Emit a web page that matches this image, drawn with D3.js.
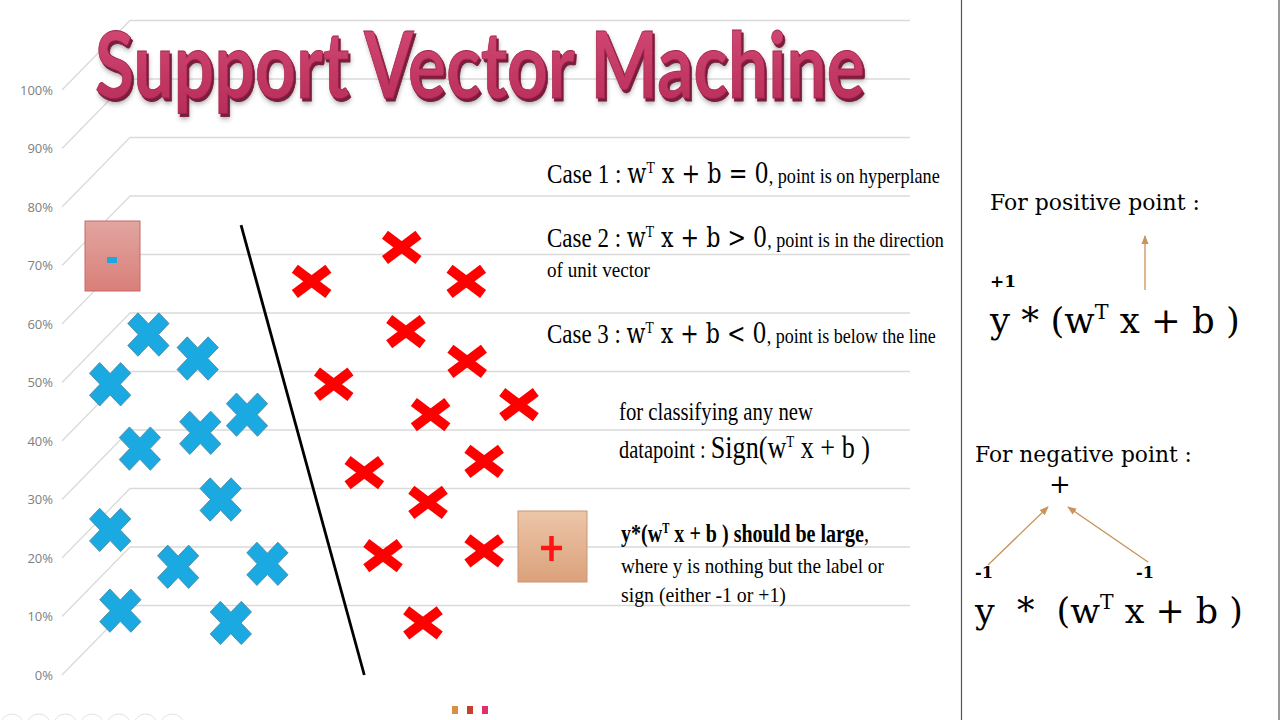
<!DOCTYPE html>
<html>
<head>
<meta charset="utf-8">
<script src="https://cdn.jsdelivr.net/npm/d3@7"></script>
<style>
  html, body { margin: 0; padding: 0; background: #fff; }
  svg { display: block; }
  text { white-space: pre; }
</style>
</head>
<body>
<svg width="1280" height="720"></svg>
<script>
// axis ticks (percent)
var yTicks = [0, 10, 20, 30, 40, 50, 60, 70, 80, 90, 100];

// negative class (blue), x in chart units 0..100, y in percent
var blueX = [10.4, 16.2, 5.9, 22.0, 16.5, 9.4, 18.9, 5.9, 13.9, 24.4, 7.1, 20.1];
var blueY = [58.2, 54.1, 49.7, 44.5, 41.4, 38.7, 30.0, 24.8, 18.5, 19.0, 11.0, 8.9];

// positive class (red)
var redX = [40.2, 29.6, 47.8, 40.7, 47.9, 32.2, 54.0, 43.6, 49.9, 35.8, 43.3, 38.0, 49.9, 42.7];
var redY = [73.1, 67.3, 67.3, 58.7, 53.6, 49.7, 46.2, 44.5, 36.5, 34.6, 29.5, 20.4, 21.2, 8.9];

// separating hyperplane end points
var lineX = [21.3, 35.8];
var lineY = [76.9, 0];

var svg = d3.select("svg"),
	SERIF = "'Liberation Serif', 'DejaVu Serif', serif",
	MATH = "'DejaVu Serif', 'Liberation Serif', serif",
	depthX = 68, depthY = 69.5;   // fake 3d floor offset of the gridlines

var x = d3.scaleLinear().domain([0, 100]).range([60, 910]),
	y = d3.scaleLinear().domain([0, 100]).range([675, 90]);

var defs = svg.append("defs");

var tg = defs.append("linearGradient").attr("id", "titleGrad")
	.attr("x1", 0).attr("y1", 0).attr("x2", 0).attr("y2", 1);
tg.append("stop").attr("offset", "0%").attr("stop-color", "#d64d77");
tg.append("stop").attr("offset", "100%").attr("stop-color", "#b62b58");

var mg = defs.append("linearGradient").attr("id", "minusGrad")
	.attr("x1", 0).attr("y1", 0).attr("x2", 0).attr("y2", 1);
mg.append("stop").attr("offset", "0%").attr("stop-color", "#e2a5a0");
mg.append("stop").attr("offset", "100%").attr("stop-color", "#d97f79");

var pg = defs.append("linearGradient").attr("id", "plusGrad")
	.attr("x1", 0).attr("y1", 0).attr("x2", 0).attr("y2", 1);
pg.append("stop").attr("offset", "0%").attr("stop-color", "#ecc6a9");
pg.append("stop").attr("offset", "100%").attr("stop-color", "#dba17b");

// extruded look + soft shadow for the title
var f = defs.append("filter").attr("id", "title3d")
	.attr("x", "-5%").attr("y", "-20%").attr("width", "110%").attr("height", "150%");
f.append("feOffset").attr("in", "SourceAlpha").attr("dx", 2).attr("dy", 3).attr("result", "off");
f.append("feFlood").attr("flood-color", "#7a1c3c").attr("result", "col");
f.append("feComposite").attr("in", "col").attr("in2", "off").attr("operator", "in").attr("result", "ext");
f.append("feGaussianBlur").attr("in", "SourceAlpha").attr("stdDeviation", 2.5).attr("result", "blur");
f.append("feOffset").attr("in", "blur").attr("dx", 3).attr("dy", 5).attr("result", "boff");
f.append("feFlood").attr("flood-color", "#444").attr("flood-opacity", 0.45).attr("result", "scol");
f.append("feComposite").attr("in", "scol").attr("in2", "boff").attr("operator", "in").attr("result", "shadow");
var fm = f.append("feMerge");
fm.append("feMergeNode").attr("in", "shadow");
fm.append("feMergeNode").attr("in", "ext");
fm.append("feMergeNode").attr("in", "SourceGraphic");

defs.append("marker").attr("id", "arrow")
	.attr("viewBox", "0 0 10 10").attr("refX", 9).attr("refY", 5)
	.attr("markerWidth", 7).attr("markerHeight", 7).attr("orient", "auto")
	.append("path").attr("d", "M0,1 L10,5 L0,9 Z").attr("fill", "#c9935a");

// gridlines on the slanted floor
svg.append("g").selectAll("path")
	.data(yTicks)
	.enter().append("path")
	.attr("d", function(d){
		var p = d3.path();
		p.moveTo(62, y(d));
		p.lineTo(62 + depthX, y(d) - depthY);
		p.lineTo(910, y(d) - depthY);
		return p.toString();
	})
	.attr("fill", "none")
	.attr("stroke", "#dadada")
	.attr("stroke-width", 1.3);

var yAxis = svg.append("g")
	.attr("transform", "translate(56,0)")
	.call(d3.axisLeft(y).tickValues(yTicks).tickSize(0).tickPadding(3)
		.tickFormat(function(d){ return d + "%"; }));
yAxis.select(".domain").remove();
yAxis.selectAll("text")
	.attr("font-family", "'Open Sans', sans-serif")
	.attr("font-size", 13)
	.attr("fill", "#808080");

// title
var tFront = svg.append("text").attr("x", 95).attr("y", 98)
	.attr("font-family", "Lato, 'Open Sans', sans-serif").attr("font-weight", 700)
	.attr("font-size", 92).attr("fill", "url(#titleGrad)")
	.attr("stroke", "#a3234c").attr("stroke-width", 0.8)
	.attr("filter", "url(#title3d)")
	.text("Support Vector Machine");
var ts = 770 / tFront.node().getComputedTextLength();
tFront.attr("transform", "translate(95,0) scale(" + ts + ",1) translate(-95,0)");

// class boxes
svg.append("rect").attr("x", 85).attr("y", 221).attr("width", 55).attr("height", 70)
	.attr("fill", "url(#minusGrad)").attr("stroke", "#c46b68").attr("stroke-width", 1);
svg.append("rect").attr("x", 107).attr("y", 257).attr("width", 10).attr("height", 6)
	.attr("fill", "#1ba8e0");
svg.append("rect").attr("x", 518).attr("y", 511).attr("width", 69).attr("height", 71)
	.attr("fill", "url(#plusGrad)").attr("stroke", "#c99673").attr("stroke-width", 1);
svg.append("path").attr("d", "M541,548 L562,548 M551.5,536 L551.5,561")
	.attr("stroke", "#ff1414").attr("stroke-width", 4.5);

// hyperplane
svg.append("line")
	.attr("x1", x(lineX[0])).attr("y1", y(lineY[0]))
	.attr("x2", x(lineX[1])).attr("y2", y(lineY[1]))
	.attr("stroke", "#000").attr("stroke-width", 2.8);

// blue crosses: a thick plus turned 45 degrees
var a = 22, t = 7.2;
var blueShape = "M" + [[-t,-a],[t,-a],[t,-t],[a,-t],[a,t],[t,t],[t,a],[-t,a],[-t,t],[-a,t],[-a,-t],[-t,-t]]
	.map(function(p){ return p.join(","); }).join("L") + "Z";

svg.append("g").selectAll("path")
	.data(d3.range(blueX.length))
	.enter().append("path")
	.attr("d", blueShape)
	.attr("transform", function(i){
		return "translate(" + x(blueX[i]) + "," + y(blueY[i]) + ") scale(1,1.05) rotate(45)";
	})
	.attr("fill", "#1aa9e1")
	.attr("stroke", "#4f8aa6")
	.attr("stroke-width", 0.8);

// red crosses: two thin bars
var redG = svg.append("g").selectAll("g")
	.data(d3.range(redX.length))
	.enter().append("g")
	.attr("transform", function(i){ return "translate(" + x(redX[i]) + "," + y(redY[i]) + ")"; });

redG.selectAll("rect")
	.data([37, -37])
	.enter().append("rect")
	.attr("x", -21).attr("y", -5).attr("width", 42).attr("height", 10)
	.attr("transform", function(d){ return "rotate(" + d + ")"; })
	.attr("fill", "#ff0000");

// text helper: segments with optional superscript, squeezed to a width
function rich(parent, px, py, segs, width, anchor) {
	var g = parent.append("g").attr("transform", "translate(" + px + "," + py + ")");
	var txt = g.append("text").attr("font-family", SERIF).attr("fill", "#000");
	var shift = 0;
	segs.forEach(function(s){
		var sp = txt.append("tspan").attr("font-size", s.size).text(s.t);
		if (s.bold) sp.attr("font-weight", "bold");
		if (s.math) sp.attr("font-family", MATH);
		var want = s.sup ? -s.sup : 0;
		if (want !== shift) { sp.attr("dy", want - shift); shift = want; }
	});
	var w = txt.node().getComputedTextLength();
	if (width) txt.attr("transform", "scale(" + (width / w) + ",1)");
	if (anchor === "middle") txt.attr("x", -w / 2);
	return txt;
}

var notes = svg.append("g");

function caseLine(py, label, op, tail, width) {
	rich(notes, 547, py, [
		{t: label + " : ", size: 28},
		{t: "w", size: 27, math: true},
		{t: "T", size: 15, sup: 10, math: true},
		{t: " x + b " + op + " 0", size: 27, math: true},
		{t: tail, size: 22}
	], width);
}
caseLine(183, "Case 1", "=", ", point is on hyperplane", 393);
caseLine(247, "Case 2", ">", ", point is in the direction", 397);
rich(notes, 547, 277, [{t: "of unit vector", size: 22}], 103);
caseLine(343, "Case 3", "<", ", point is below the line", 389);

rich(notes, 619, 420, [{t: "for classifying any new", size: 25}], 194);
rich(notes, 619, 458, [
	{t: "datapoint : ", size: 25},
	{t: "Sign(w", size: 32},
	{t: "T", size: 16, sup: 11},
	{t: " x + b )", size: 32}
], 251);
rich(notes, 621, 542, [
	{t: "y*(w", size: 26, bold: true},
	{t: "T", size: 14, sup: 9, bold: true},
	{t: " x + b ) should be large", size: 26, bold: true},
	{t: ",", size: 26}
], 248);
rich(notes, 621, 573, [{t: "where y is nothing but the label or", size: 22}], 263);
rich(notes, 621, 602, [{t: "sign (either -1 or +1)", size: 22}], 165);

// right panel
svg.append("line").attr("x1", 961.5).attr("y1", 0).attr("x2", 961.5).attr("y2", 720)
	.attr("stroke", "#555").attr("stroke-width", 1.2);
svg.append("line").attr("x1", 1279).attr("y1", 0).attr("x2", 1279).attr("y2", 720)
	.attr("stroke", "#555").attr("stroke-width", 1.2);

var panel = svg.append("g");
rich(panel, 990, 210, [{t: "For positive point :", size: 22, math: true}], 210);
rich(panel, 990, 287, [{t: "+1", size: 16, bold: true, math: true}], 26);
rich(panel, 990, 333, [
	{t: "y * (w", size: 36, math: true},
	{t: "T", size: 21, sup: 14, math: true},
	{t: " x + b )", size: 36, math: true}
], 250);

rich(panel, 975, 462, [{t: "For negative point :", size: 22, math: true}], 217);
rich(panel, 1060, 493, [{t: "+", size: 26, math: true}], null, "middle");
rich(panel, 975, 578, [{t: "-1", size: 16, bold: true, math: true}], 18);
rich(panel, 1136, 578, [{t: "-1", size: 16, bold: true, math: true}], 18);
rich(panel, 975, 623, [
	{t: "y  *  (w", size: 36, math: true},
	{t: "T", size: 21, sup: 14, math: true},
	{t: " x + b )", size: 36, math: true}
], 268);

var arrows = [
	[1145, 290, 1145, 236],
	[988, 565, 1048, 507],
	[1148, 562, 1068, 507]
];
panel.selectAll(".arrow")
	.data(arrows)
	.enter().append("line")
	.attr("class", "arrow")
	.attr("x1", function(d){ return d[0]; }).attr("y1", function(d){ return d[1]; })
	.attr("x2", function(d){ return d[2]; }).attr("y2", function(d){ return d[3]; })
	.attr("stroke", "#c9935a").attr("stroke-width", 1.3)
	.attr("marker-end", "url(#arrow)");

// slide footer bits
svg.append("g").selectAll("rect")
	.data(["#d99044", "#c4402c", "#e0306a"])
	.enter().append("rect")
	.attr("x", function(d, i){ return 452 + i * 15; })
	.attr("y", 706).attr("width", 6).attr("height", 8)
	.attr("fill", function(d){ return d; });

svg.append("g").selectAll("circle")
	.data(d3.range(7))
	.enter().append("circle")
	.attr("cx", function(i){ return 12 + i * 26.7; })
	.attr("cy", 726).attr("r", 12)
	.attr("fill", "none").attr("stroke", "#e3e3e3").attr("stroke-width", 1);
</script>
</body>
</html>
